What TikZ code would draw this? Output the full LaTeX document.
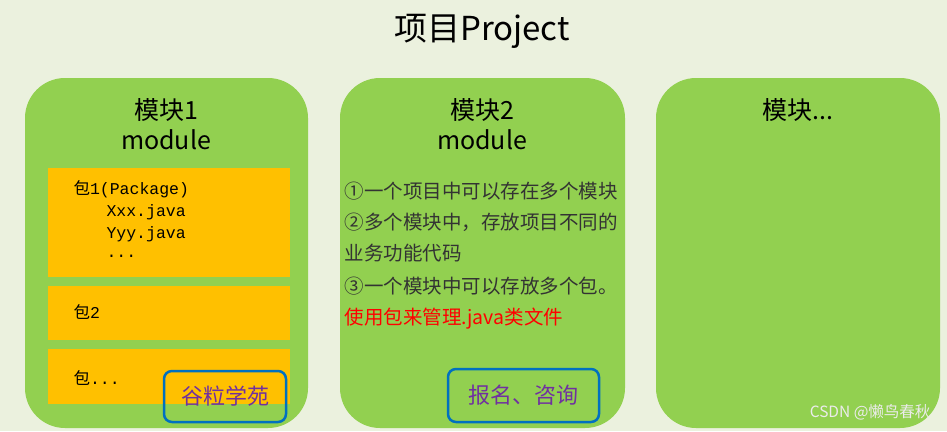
\documentclass[tikz,border=0pt]{standalone}
\usepackage{fontspec}
\setmainfont{Carlito}
\newfontfamily\cjk{Noto Sans CJK SC}
\newfontfamily\mono{Liberation Mono}
\definecolor{bg}{HTML}{EBF1DE}
\definecolor{grn}{HTML}{92D050}
\definecolor{org}{HTML}{FFC000}
\definecolor{blu}{HTML}{0070C0}
\definecolor{pur}{HTML}{7030A0}
\begin{document}
\begin{tikzpicture}[x=1pt,y=-1pt,
  modbox/.style={fill=grn,rounded corners=40pt},
  pkg/.style={fill=org},
  tag/.style={draw=blu,line width=2.5pt,rounded corners=8pt},
  ttl/.style={font=\cjk\fontsize{25}{28}\selectfont,anchor=center},
  pl/.style={font=\mono\fontsize{16.5}{18}\selectfont,anchor=west},
  tl/.style={font=\cjk\fontsize{19.5}{22}\selectfont,anchor=west,text=black!80}]
\fill[bg] (0,0) rectangle (947,431);
\useasboundingbox (0,0) rectangle (947,431);
\node[font=\cjk\fontsize{33}{36}\selectfont] (title) at (482,31) {项目Project};
\fill[modbox] (25,78) rectangle (308,428);
\fill[modbox] (340,78) rectangle (625,428);
\fill[modbox] (656,78) rectangle (940,428);
\node[ttl] (m1) at (166,110) {模块1};
\node[ttl] (m1b) at (166,140) {module};
\node[ttl] (m2) at (482,110) {模块2};
\node[ttl] (m2b) at (482,140) {module};
\node[ttl] (m3) at (798,110) {模块...};
\fill[pkg] (48,168) rectangle (290,277);
\fill[pkg] (48,286) rectangle (290,340);
\fill[pkg] (48,349) rectangle (290,404);
\node[pl] (p1) at (70,189) {{\cjk 包}1(Package)};
\node[pl] (p1a) at (103,212) {Xxx.java};
\node[pl] (p1b) at (103,234) {Yyy.java};
\node[pl] (p1c) at (103,256) {...};
\node[pl] (p2) at (70,312) {{\cjk 包}2};
\node[pl] (p3) at (70,378) {{\cjk 包}...};
\draw[tag] (164,371) rectangle (286,422);
\node[font=\cjk\fontsize{22}{24}\selectfont,text=pur] (t1) at (225,396) {谷粒学苑};
\draw[tag] (448,369) rectangle (599,422);
\node[font=\cjk\fontsize{22}{24}\selectfont,text=pur] (t2) at (523,395) {报名、咨询};
\node[tl] (l1) at (341,191) {①一个项目中可以存在多个模块};
\node[tl] (l2) at (341,222) {②多个模块中，存放项目不同的};
\node[tl] (l3) at (341,253) {业务功能代码};
\node[tl] (l4) at (341,286) {③一个模块中可以存放多个包。};
\node[tl,text=red] (l5) at (341,319) {使用包来管理.java类文件};
\node[font=\cjk\fontsize{15.5}{17}\selectfont,text=white!92!black,anchor=east] (wm) at (934,412) {CSDN @懒鸟春秋};
\end{tikzpicture}
\end{document}
